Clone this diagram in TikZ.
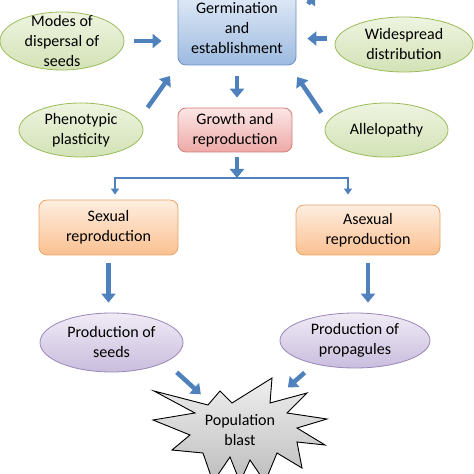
\documentclass[tikz,border=0pt]{standalone}
\usepackage{fontspec}
\setmainfont{Carlito}
\usetikzlibrary{arrows.meta,shapes.geometric}

\definecolor{flowblue}{HTML}{4F81BD}
\definecolor{greentop}{HTML}{EEF4E0}
\definecolor{greenbot}{HTML}{D3E2B6}
\definecolor{greenline}{HTML}{9BBB59}
\definecolor{bluetop}{HTML}{E3ECF7}
\definecolor{bluebot}{HTML}{9DBAE0}
\definecolor{blueline}{HTML}{6A8FC7}
\definecolor{pinktop}{HTML}{FBE6E5}
\definecolor{pinkbot}{HTML}{EDA9A7}
\definecolor{pinkline}{HTML}{D07F7C}
\definecolor{orangetop}{HTML}{FEEEE0}
\definecolor{orangebot}{HTML}{FAC090}
\definecolor{orangeline}{HTML}{E9A467}
\definecolor{purpletop}{HTML}{F0EBF6}
\definecolor{purplebot}{HTML}{C9BDDD}
\definecolor{purpleline}{HTML}{9A86B8}
\definecolor{startop}{HTML}{EFEFEF}
\definecolor{starbot}{HTML}{BDBDBD}

\tikzset{
  factor/.style={ellipse, draw=greenline, line width=0.8pt, top color=greentop, bottom color=greenbot, align=center, inner sep=0pt},
  product/.style={ellipse, draw=purpleline, line width=0.8pt, top color=purpletop, bottom color=purplebot, align=center, inner sep=0pt},
  stage/.style={rectangle, rounded corners=8pt, line width=0.8pt, align=center},
  flow/.style={draw=flowblue, line width=4.5pt, -{Triangle[length=9pt,width=14pt]}},
  branch/.style={draw=flowblue, line width=2.5pt, -{Triangle[length=6pt,width=8pt]}},
}

\begin{document}
\begin{tikzpicture}[x=1pt, y=1pt, font=\fontsize{16}{20}\selectfont]
    \useasboundingbox (0,0) rectangle (474,474);
    \clip (0,0) rectangle (474,474);

    % 星形の背景
    \filldraw[draw=black, line width=0.9pt, top color=startop, bottom color=starbot]
      (154,83) -- (208,69) -- (220,83) -- (232,71) -- (272,96) -- (270,71) -- (307,81) -- (287,61)
      -- (327,55) -- (297,46) -- (325,29) -- (297,32) -- (302,6) -- (277,21) -- (265,-8) -- (250,14)
      -- (240,-8) -- (230,17) -- (213,-8) -- (203,21) -- (172,24) -- (190,39) -- (153,54) -- (195,61) -- cycle;

    \node[stage, draw=blueline, top color=bluetop, bottom color=bluebot, minimum width=118pt, minimum height=74pt] (germ) at (237,446) {Germination\\and\\establishment};
    \node[factor, minimum width=124pt, minimum height=58pt, inner ysep=-8pt] (disp) at (62,433) {Modes of\\dispersal of\\seeds};
    \node[factor, minimum width=138pt, minimum height=55pt] (wide) at (404,429.5) {Widespread\\distribution};
    \node[factor, minimum width=124pt, minimum height=54pt] (pheno) at (81,344) {Phenotypic\\plasticity};
    \node[stage, draw=pinkline, top color=pinktop, bottom color=pinkbot, minimum width=114pt, minimum height=44pt] (growth) at (235,344) {Growth and\\reproduction};
    \node[factor, minimum width=123pt, minimum height=54pt] (allelo) at (386.5,344) {Allelopathy};
    \node[stage, draw=orangeline, top color=orangetop, bottom color=orangebot, minimum width=139pt, minimum height=55pt] (sexual) at (108.5,246.5) {Sexual\\reproduction};
    \node[stage, draw=orangeline, top color=orangetop, bottom color=orangebot, minimum width=144pt, minimum height=50pt] (asexual) at (368,244) {Asexual\\reproduction};
    \node[product, minimum width=143pt, minimum height=59pt] (seeds) at (111.5,131.5) {Production of\\seeds};
    \node[product, minimum width=150pt, minimum height=55pt] (props) at (355,133.5) {Production of\\propagules};
    \node[align=center] (blast) at (240,44) {Population\\blast};

    \coordinate (split) at (237,296);
    \coordinate (lsplit) at (115,296);
    \coordinate (rsplit) at (348,296);
    \coordinate (gout) at (308,470);
    \coordinate (gtip) at (315,479);

    \draw[flow, shorten <=10pt, shorten >=16pt] (disp.east) -- (disp.east -| germ.west);
    \draw[flow, shorten <=9pt, shorten >=11pt] (wide.175) -- (wide.175 -| germ.east);
    \draw[flow, shorten <=15pt, shorten >=13pt] (pheno.10) -- (germ.south west);
    \draw[flow, shorten <=11pt, shorten >=14pt] (allelo.172) -- ([xshift=-7pt]germ.south east);
    \draw[flow] (gout) -- (gtip);
    \draw[flow, shorten <=11pt, shorten >=10pt] (germ.south) -- (germ.south |- growth.north);
    \draw[flow, shorten <=5pt] (growth.south -| split) -- (split);
    \draw[branch, shorten >=5pt] (split) -| (sexual.north -| lsplit);
    \draw[branch, shorten >=10pt] (split) -| (asexual.north -| rsplit);
    \draw[flow, shorten <=8pt, shorten >=10pt] (sexual.south) -- (sexual.south |- seeds.north);
    \draw[flow, shorten <=8pt, shorten >=10pt] (asexual.south) -- (asexual.south |- props.north);
    \draw[flow, shorten <=15pt, shorten >=53pt] (seeds.-20) -- (blast.center);
    \draw[flow, shorten <=13pt, shorten >=64pt] (props.210) -- (blast.center);

  \end{tikzpicture}
\end{document}
